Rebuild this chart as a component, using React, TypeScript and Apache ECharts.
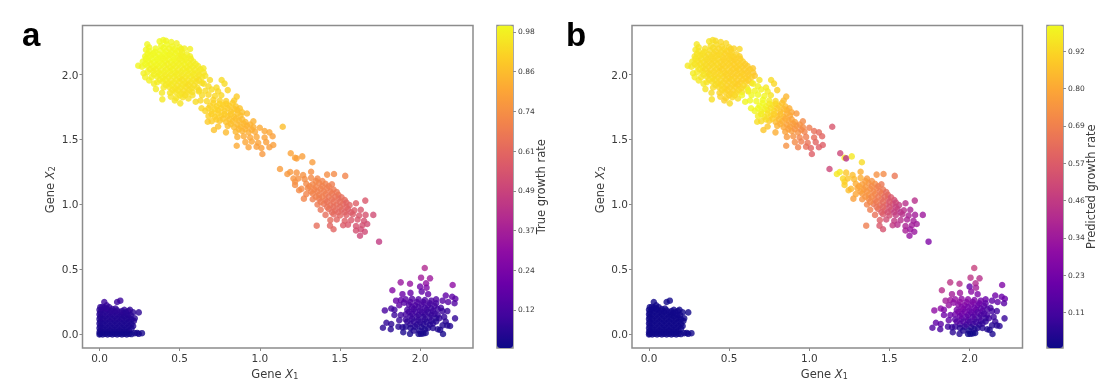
import React, { useEffect, useRef } from "react";
import * as echarts from "echarts";

// every row: [gene X1, gene X2, true growth rate, predicted growth rate]
const upperCluster = [
[.242,2.068,.99,.96],[.298,2.232,1,.96],[.29,2.19,.99,.96],[.31,2.21,.99,.95],[.375,2.255,1,.95],[.398,2.265,1,.94],[.415,2.26,.99,.93],[.448,2.25,.99,.92],[.481,2.24,.98,.92],[.565,2.196,.98,.92],[.53,2.2,.98,.91],[.352,1.888,.97,.95],[.392,1.809,.96,.94],[.504,1.778,.95,.93],[.648,2.048,.96,.88],[.275,2.01,.98,.97],[.285,1.98,.98,.97],[.31,1.955,.98,.96],[.34,1.93,.97,.96],[.39,1.86,.96,.93],[.445,1.83,.95,.91],[.47,1.8,.95,.9],[.62,1.87,.94,.93],[.66,1.99,.95,.88],
[.385,2.22,1,.94],[.42,2.23,1,.93],[.455,2.215,.99,.92],[.5,2.21,.99,.92],
[.31,2.18,1,.95],[.345,2.175,1,.94],[.38,2.185,1,.93],[.415,2.18,1,.92],[.45,2.175,.99,.92],[.485,2.18,.99,.91],[.515,2.17,.98,.91],
[.285,2.14,1,.95],[.32,2.145,1,.94],[.355,2.135,1,.93],[.39,2.14,1,.92],[.425,2.145,.99,.92],[.46,2.135,.99,.91],[.495,2.14,.98,.91],[.53,2.135,.98,.91],[.565,2.14,.98,.9],
[.27,2.1,1,.96],[.305,2.105,1,.94],[.34,2.095,1,.93],[.375,2.1,.99,.92],[.41,2.105,.99,.92],[.445,2.095,.99,.91],[.48,2.1,.98,.91],[.515,2.105,.98,.9],[.55,2.095,.98,.9],[.585,2.1,.97,.9],
[.265,2.06,.99,.96],[.3,2.065,.99,.95],[.335,2.055,.99,.93],[.37,2.06,.99,.92],[.405,2.065,.98,.92],[.44,2.055,.98,.91],[.475,2.06,.98,.91],[.51,2.065,.98,.9],[.545,2.055,.97,.9],[.58,2.06,.97,.89],[.615,2.065,.96,.89],
[.3,2.02,.98,.96],[.335,2.025,.98,.94],[.37,2.015,.98,.93],[.405,2.02,.98,.92],[.44,2.025,.98,.91],[.475,2.015,.97,.91],[.51,2.02,.97,.9],[.545,2.025,.97,.9],[.58,2.015,.96,.9],[.615,2.02,.96,.89],[.65,2.015,.95,.88],
[.325,1.98,.98,.95],[.36,1.985,.98,.94],[.395,1.975,.97,.93],[.43,1.98,.97,.92],[.465,1.985,.97,.91],[.5,1.975,.96,.91],[.535,1.98,.96,.9],[.57,1.985,.96,.9],[.605,1.975,.95,.9],[.64,1.98,.95,.89],
[.36,1.94,.97,.95],[.395,1.945,.97,.94],[.43,1.935,.96,.93],[.465,1.94,.96,.92],[.5,1.945,.95,.91],[.535,1.935,.95,.91],[.57,1.94,.95,.9],[.605,1.945,.94,.9],[.64,1.935,.94,.92],
[.4,1.9,.96,.93],[.435,1.905,.95,.92],[.47,1.895,.95,.91],[.505,1.9,.95,.91],[.54,1.905,.94,.9],[.575,1.895,.94,.91],[.61,1.9,.94,.93],
[.44,1.86,.95,.91],[.475,1.865,.95,.91],[.51,1.855,.94,.9],[.545,1.86,.94,.92],[.58,1.865,.94,.94],
[.48,1.82,.95,.91],[.52,1.825,.94,.92],[.555,1.815,.94,.94],
];

const upperCore = [
[.35,2.2,1,.94],[.4,2.205,1,.93],[.435,2.2,.99,.92],[.47,2.195,.99,.92],[.51,2.195,.98,.91],
[.3,2.16,1,.95],[.335,2.16,1,.94],[.37,2.155,1,.93],[.405,2.16,1,.92],[.44,2.155,.99,.92],[.475,2.16,.99,.91],[.51,2.15,.98,.91],[.545,2.155,.98,.91],
[.29,2.12,1,.95],[.325,2.12,1,.94],[.36,2.115,1,.93],[.395,2.12,.99,.92],[.43,2.12,.99,.92],[.465,2.115,.99,.91],[.5,2.12,.98,.91],[.535,2.115,.98,.9],[.57,2.12,.97,.9],
[.285,2.08,1,.95],[.32,2.08,.99,.94],[.355,2.075,.99,.93],[.39,2.08,.99,.92],[.425,2.08,.98,.92],[.46,2.075,.98,.91],[.495,2.08,.98,.91],[.53,2.08,.98,.9],[.565,2.075,.97,.9],[.6,2.08,.97,.89],
[.315,2.04,.98,.95],[.35,2.04,.98,.93],[.385,2.035,.98,.92],[.42,2.04,.98,.92],[.455,2.04,.98,.91],[.49,2.035,.97,.91],[.525,2.04,.97,.9],[.56,2.04,.97,.9],[.595,2.035,.96,.89],[.63,2.04,.96,.89],
[.34,2,.98,.95],[.375,2,.98,.93],[.41,1.995,.97,.92],[.445,2,.97,.92],[.48,2,.97,.91],[.515,1.995,.96,.9],[.55,2,.96,.9],[.585,2,.96,.9],[.62,1.995,.95,.89],
[.375,1.96,.97,.94],[.41,1.96,.97,.93],[.445,1.955,.96,.92],[.48,1.96,.96,.91],[.515,1.96,.95,.91],[.55,1.955,.95,.9],[.585,1.96,.95,.9],[.62,1.955,.94,.9],
[.415,1.92,.96,.93],[.45,1.92,.96,.92],[.485,1.915,.95,.91],[.52,1.92,.95,.91],[.555,1.92,.94,.9],[.59,1.915,.94,.92],
[.455,1.88,.95,.92],[.49,1.88,.95,.91],[.525,1.875,.94,.91],[.56,1.88,.94,.92],
[.5,1.84,.95,.91],[.535,1.84,.94,.92],
];

const middleCluster = [
[.689,1.958,.93,.95],[.762,1.958,.93,.93],[.78,1.93,.93,.92],[.65,1.93,.94,.97],[.68,1.91,.93,.98],[.73,1.9,.93,.96],
[.62,1.88,.93,.99],[.66,1.875,.93,.99],[.7,1.885,.93,.98],[.74,1.87,.92,.97],[.8,1.88,.91,.9],
[.58,1.84,.94,.99],[.64,1.84,.93,1],[.68,1.845,.92,1],[.72,1.835,.92,.99],[.76,1.84,.92,.95],[.856,1.83,.89,.84],
[.6,1.79,.93,.99],[.63,1.8,.92,1],[.67,1.795,.92,1],[.71,1.805,.91,1],[.75,1.8,.91,.97],[.79,1.795,.9,.92],[.84,1.8,.89,.85],
[.637,1.74,.92,1],[.69,1.76,.91,1],[.73,1.755,.91,.98],[.77,1.765,.9,.94],[.81,1.76,.89,.89],[.85,1.755,.88,.85],
[.66,1.72,.91,.99],[.7,1.715,.91,.98],[.74,1.725,.9,.96],[.78,1.72,.89,.91],[.82,1.715,.88,.87],[.86,1.725,.87,.84],[.89,1.71,.87,.8],
[.675,1.637,.89,.94],[.68,1.68,.9,.97],[.72,1.675,.9,.95],[.76,1.685,.89,.91],[.8,1.68,.88,.87],[.84,1.675,.87,.84],[.88,1.685,.86,.8],[.92,1.7,.85,.76],
[.7,1.64,.89,.93],[.75,1.645,.88,.89],[.79,1.635,.87,.85],[.83,1.64,.86,.82],[.87,1.645,.85,.8],[.91,1.635,.84,.78],[.96,1.64,.83,.72],
[.714,1.573,.87,.88],[.74,1.6,.87,.88],[.8,1.605,.86,.83],[.84,1.595,.85,.8],[.88,1.6,.84,.78],[.92,1.605,.83,.76],[.96,1.595,.82,.72],[1,1.59,.81,.68],
[.789,1.555,.85,.82],[.85,1.56,.84,.79],[.89,1.565,.83,.77],[.93,1.555,.82,.74],[.97,1.56,.81,.7],[1.03,1.565,.8,.64],[1.06,1.555,.8,.62],
[.86,1.52,.82,.76],[.9,1.525,.81,.74],[.94,1.515,.8,.7],[.98,1.52,.8,.68],[1.03,1.515,.79,.63],[1.08,1.525,.78,.6],
[.856,1.452,.81,.74],[.91,1.48,.8,.72],[.95,1.485,.8,.68],[.99,1.475,.79,.65],[1.04,1.48,.78,.6],[1.084,1.458,.78,.58],
[.93,1.44,.79,.69],[.98,1.445,.78,.64],[1.01,1.435,.78,.6],[1.06,1.44,.77,.58],[1.016,1.388,.76,.58],[1.143,1.598,.86,.55],
];

const middleCore = [
[.71,1.78,.91,1],[.75,1.775,.91,.96],[.79,1.775,.9,.92],[.83,1.78,.89,.87],
[.68,1.74,.91,1],[.72,1.735,.91,.98],[.76,1.74,.9,.94],[.8,1.74,.89,.89],[.84,1.735,.88,.85],[.875,1.74,.87,.82],
[.7,1.695,.9,.97],[.74,1.7,.9,.94],[.78,1.695,.89,.9],[.82,1.695,.88,.86],[.86,1.7,.87,.82],
[.73,1.655,.89,.93],[.77,1.66,.88,.89],[.81,1.655,.87,.85],[.85,1.66,.86,.81],[.89,1.655,.85,.79],
[.82,1.62,.86,.82],[.86,1.615,.85,.79],[.9,1.62,.84,.77],[.94,1.615,.83,.74],
[.87,1.58,.84,.78],[.91,1.58,.83,.75],[.95,1.575,.82,.72],
];

const lowerCluster = [
[1.193,1.394,.79,.5],[1.22,1.36,.79,.96],[1.23,1.355,.78,.42],[1.265,1.37,.78,.96],[1.328,1.325,.77,.93],[1.533,1.22,.7,.66],[1.463,1.235,.72,.72],[1.42,1.23,.73,.74],[1.126,1.273,.77,.5],[1.172,1.235,.76,.96],[1.19,1.25,.76,.96],[1.23,1.245,.75,.88],[1.27,1.226,.74,.86],[1.32,1.252,.73,.82],[1.22,1.175,.74,.9],[1.245,1.11,.72,.86],[1.275,1.045,.7,.78],[1.21,1.2,.75,.92],
[1.24,1.2,.74,.88],[1.28,1.195,.73,.85],[1.32,1.205,.72,.82],[1.36,1.2,.71,.76],
[1.22,1.15,.73,.9],[1.29,1.16,.72,.82],[1.33,1.155,.71,.78],[1.37,1.165,.7,.75],[1.41,1.16,.69,.72],[1.45,1.155,.68,.66],
[1.26,1.12,.72,.84],[1.3,1.125,.71,.8],[1.34,1.115,.7,.77],[1.38,1.12,.69,.73],[1.42,1.125,.68,.7],[1.46,1.115,.67,.66],
[1.29,1.08,.7,.8],[1.33,1.085,.69,.76],[1.37,1.075,.68,.74],[1.41,1.08,.67,.7],[1.45,1.085,.66,.66],[1.49,1.075,.65,.6],
[1.33,1.04,.68,.75],[1.37,1.045,.67,.72],[1.41,1.035,.66,.68],[1.45,1.04,.65,.64],[1.49,1.045,.63,.58],[1.53,1.035,.62,.52],
[1.36,1,.67,.7],[1.4,1.005,.65,.66],[1.44,.995,.64,.62],[1.48,1,.63,.56],[1.52,1.005,.61,.5],[1.56,.995,.59,.46],[1.6,1.01,.58,.42],[1.658,1.03,.56,.42],
[1.38,.96,.65,.68],[1.43,.965,.63,.62],[1.47,.955,.62,.56],[1.51,.96,.6,.5],[1.55,.965,.58,.46],[1.59,.955,.57,.42],[1.63,.96,.55,.38],
[1.41,.92,.63,.64],[1.46,.925,.61,.56],[1.5,.915,.6,.52],[1.54,.92,.58,.46],[1.58,.925,.57,.42],[1.62,.915,.55,.38],[1.66,.92,.54,.36],[1.708,.92,.52,.34],
[1.44,.88,.62,.58],[1.48,.885,.6,.52],[1.53,.875,.58,.46],[1.57,.88,.56,.42],[1.61,.885,.55,.38],[1.65,.875,.53,.36],
[1.355,.837,.63,.68],[1.438,.837,.6,.56],[1.46,.81,.6,.54],[1.52,.84,.57,.46],[1.55,.845,.56,.42],[1.6,.835,.54,.38],[1.64,.84,.53,.36],[1.67,.85,.52,.35],
[1.6,.8,.53,.37],[1.63,.81,.52,.34],[1.655,.79,.51,.33],[1.625,.76,.5,.32],[1.744,.714,.46,.26],
];

const lowerCore = [
[1.35,1.18,.71,.77],[1.39,1.18,.7,.74],[1.31,1.14,.71,.79],[1.35,1.135,.7,.76],[1.39,1.14,.69,.72],[1.43,1.14,.68,.68],
[1.32,1.1,.7,.78],[1.36,1.1,.69,.75],[1.4,1.1,.68,.71],[1.44,1.1,.67,.67],[1.48,1.095,.66,.62],
[1.35,1.06,.69,.75],[1.39,1.06,.68,.71],[1.43,1.06,.66,.67],[1.47,1.06,.65,.62],[1.51,1.055,.63,.56],
[1.38,1.02,.67,.71],[1.42,1.02,.65,.67],[1.46,1.02,.64,.62],[1.5,1.02,.63,.56],[1.54,1.015,.6,.5],
[1.42,.98,.65,.65],[1.46,.98,.63,.6],[1.5,.98,.62,.54],[1.54,.98,.6,.48],
[1.45,.94,.62,.58],[1.49,.94,.61,.53],[1.53,.94,.59,.47],[1.57,.94,.57,.43],
];

const rightCluster = [
[2.029,.511,.4,.48],[2.006,.437,.35,.44],[2.062,.432,.34,.42],[1.879,.401,.33,.44],[1.937,.39,.32,.42],[2.037,.394,.31,.4],[2.203,.381,.3,.26],[2,.368,.22,.18],[2.04,.36,.26,.36],[1.827,.34,.27,.42],
[1.89,.31,.2,.36],[1.94,.32,.19,.34],[2.01,.33,.17,.28],[2.05,.31,.18,.26],[2.16,.3,.18,.22],[2.2,.29,.17,.2],[2.22,.275,.16,.2],[2.1,.27,.14,.2],[2.14,.26,.15,.18],
[1.85,.26,.19,.36],[1.88,.265,.18,.34],[1.91,.27,.16,.32],[1.95,.275,.15,.3],[1.99,.27,.14,.28],[2.03,.265,.13,.26],[2.07,.26,.13,.22],[2.175,.25,.15,.18],[2.215,.24,.14,.16],
[1.87,.225,.17,.32],[1.93,.23,.14,.28],[1.97,.225,.13,.26],[2.01,.23,.12,.24],[2.05,.225,.12,.2],[2.09,.22,.11,.16],[2.13,.205,.1,.12],
[1.92,.19,.12,.24],[1.96,.195,.11,.24],[2,.185,.11,.2],[2.04,.19,.1,.18],[2.08,.18,.1,.14],[1.91,.155,.11,.22],[1.95,.16,.1,.2],[1.99,.15,.09,.18],[2.03,.155,.09,.16],[2.07,.15,.08,.12],
[1.78,.185,.12,.3],[1.82,.2,.11,.3],[1.84,.19,.1,.26],[1.84,.15,.09,.22],[1.88,.15,.1,.2],[1.91,.115,.09,.16],[1.95,.12,.08,.16],[1.99,.11,.08,.14],[2.03,.115,.07,.12],[2.07,.105,.06,.1],[2.11,.15,.08,.12],[2.14,.18,.08,.1],[2.17,.18,.08,.1],[2.12,.125,.07,.1],[2.15,.135,.07,.09],
[1.87,.11,.08,.18],[1.94,.08,.07,.12],[1.98,.075,.06,.1],[2.02,.08,.05,.08],[2.06,.075,.05,.06],[1.79,.09,.07,.18],[1.82,.08,.06,.16],[2.218,.124,.07,.08],[2.16,.1,.06,.08],
[1.768,.052,.06,.14],[1.817,.04,.05,.12],[1.865,.06,.05,.1],[1.89,.055,.05,.08],[1.91,.06,.04,.08],[1.94,.05,.04,.06],[2.08,.05,.04,.05],[2.11,.04,.04,.04],[2.14,.07,.04,.05],[2.17,.07,.04,.05],[2.187,.065,.04,.05],
[1.895,.017,.03,.06],[1.937,.005,.02,.04],[1.99,.005,.02,.01],[2.005,.005,.02,.01],[2.02,.008,.02,.01],[2.035,.012,.02,.01],[2.143,.004,.02,.03],[2.125,.035,.03,.03],
];

const rightCore = [
[1.9,.245,.15,.3],[1.94,.25,.14,.3],[1.98,.25,.13,.27],[2.02,.25,.12,.24],[2.06,.24,.11,.2],[2.1,.24,.11,.17],
[1.95,.21,.12,.26],[1.99,.21,.11,.23],[2.03,.205,.1,.2],[2.07,.2,.09,.16],[2.11,.195,.09,.13],
[1.93,.175,.11,.24],[1.97,.175,.1,.22],[2.01,.17,.09,.18],[2.05,.17,.08,.15],[2.09,.16,.08,.12],
[1.94,.14,.09,.2],[1.98,.135,.08,.17],[2.02,.135,.07,.14],[2.06,.13,.07,.11],[2.1,.125,.06,.09],
[1.96,.1,.07,.14],[2,.095,.06,.11],[2.04,.095,.05,.09],[2.08,.085,.05,.07],[2.1,.1,.05,.07],
[1.92,.1,.07,.15],[1.97,.06,.05,.08],[2.01,.055,.04,.06],[2.05,.05,.04,.05],
[1.995,.03,.03,.02],[2.03,.04,.03,.03],[1.96,.03,.04,.04],
];

const originCluster = [
[.13,.26,.09,.01],[.11,.25,.09,.01],[.03,.25,.09,.01],[.045,.225,.08,.01],[.1,.2,.07,.01],[.155,.19,.07,.01],[.18,.18,.07,.01],[.19,.19,.07,.01],[.21,.17,.06,.01],[.245,.17,.06,.01],[.22,.125,.05,.01],[.215,.105,.05,.01],[.21,.065,.04,.01],[.22,.01,.02,.01],[.245,.005,.02,.01],[.265,.01,.02,.01],[.235,.012,.02,.01],
[.005,.21,.07,.01],[.03,.205,.07,.01],[.06,.21,.07,.01],[.08,.195,.07,.01],
[.005,.17,.06,.01],[.035,.175,.06,.01],[.065,.17,.06,.01],[.095,.175,.06,.01],[.125,.17,.06,.01],[.15,.165,.05,.01],[.175,.15,.05,.01],
[.005,.135,.05,.01],[.035,.14,.05,.01],[.065,.135,.05,.01],[.095,.14,.05,.01],[.125,.135,.05,.01],[.155,.14,.04,.01],[.185,.13,.04,.01],
[.005,.1,.04,.01],[.035,.105,.04,.01],[.065,.1,.04,.01],[.095,.105,.04,.01],[.125,.1,.04,.01],[.155,.105,.03,.01],[.185,.1,.03,.01],
[.005,.065,.03,.01],[.035,.07,.03,.01],[.065,.065,.03,.01],[.095,.07,.03,.01],[.125,.065,.03,.01],[.155,.07,.03,.01],[.185,.065,.03,.01],
[.005,.03,.02,.005],[.035,.035,.02,.005],[.065,.03,.02,.005],[.095,.035,.02,.005],[.125,.03,.02,.005],[.155,.035,.02,.005],[.185,.03,.02,.005],
[.005,.005,.01,.005],[.035,.005,.01,.005],[.065,.005,.01,.005],[.095,.005,.01,.005],[.125,.005,.01,.005],[.155,.005,.01,.005],[.185,.005,.01,.005],
];

const originCore = [
[.02,.19,.06,.005],[.05,.19,.06,.005],[.08,.155,.05,.005],[.11,.155,.05,.005],[.14,.15,.05,.005],[.02,.155,.05,.005],[.05,.155,.05,.005],
[.02,.12,.04,.005],[.05,.12,.04,.005],[.08,.12,.04,.005],[.11,.12,.04,.005],[.14,.12,.04,.005],[.17,.12,.04,.005],
[.02,.085,.03,.005],[.05,.085,.03,.005],[.08,.085,.03,.005],[.11,.085,.03,.005],[.14,.085,.03,.005],[.17,.085,.03,.005],
[.02,.05,.025,.005],[.05,.05,.025,.005],[.08,.05,.025,.005],[.11,.05,.025,.005],[.14,.05,.025,.005],[.17,.05,.025,.005],
[.02,.018,.02,.005],[.05,.018,.02,.005],[.08,.018,.02,.005],[.11,.018,.02,.005],[.14,.018,.02,.005],[.17,.018,.02,.005],
];

const originEdge = [
[0,.19,.06,.005],[0,.155,.05,.005],[0,.12,.04,.005],[0,.085,.03,.005],[0,.05,.025,.005],[0,.018,.02,.005],[0,0,.01,.005],
[.02,0,.01,.005],[.05,0,.01,.005],[.08,0,.01,.005],[.11,0,.01,.005],[.14,0,.01,.005],[.17,0,.01,.005],[.2,.003,.01,.005],
[.018,.212,.07,.01],[.045,.2,.07,.01],[.075,.18,.06,.01],[.11,.185,.06,.01],[.14,.18,.06,.01],[.165,.17,.05,.01],[.195,.15,.05,.01],[.2,.115,.04,.005],[.2,.08,.03,.005],[.2,.045,.025,.005],
];

const allPoints = [...originCluster, ...originCore, ...originEdge, ...rightCluster, ...rightCore, ...upperCluster, ...upperCore, ...middleCluster, ...middleCore, ...lowerCluster, ...lowerCore];

const geneTicks = [0, 0.5, 1, 1.5, 2];
const trueTickValues = [0.1225, 0.245, 0.3675, 0.49, 0.6125, 0.735, 0.8575, 0.98];
const trueTickLabels = ["0.12", "0.24", "0.37", "0.49", "0.61", "0.74", "0.86", "0.98"];
const predTickValues = [0.115, 0.23, 0.345, 0.46, 0.575, 0.69, 0.805, 0.92];
const predTickLabels = ["0.11", "0.23", "0.34", "0.46", "0.57", "0.69", "0.80", "0.92"];
const plasma = ["#0d0887", "#41049d", "#6a00a8", "#8f0da4", "#b12a90", "#cc4778", "#e16462", "#f2844b", "#fca636", "#fcce25", "#f0f921"];

const FONT = "DejaVu Sans";
const INK = "#3a3a3a";
const SPINE = "#8c8c8c";
const AXIS_LINE = { show: false, onZero: false };

function geneName(sub: string) {
  return `{n|Gene }{i|X}{s|${sub}}`;
}
const nameStyle = {
  color: INK,
  fontFamily: FONT,
  fontSize: 11.5,
  padding: [0, 6, 0, 0],
  rich: {
    n: { fontFamily: FONT, fontSize: 11.5, color: INK },
    i: { fontFamily: FONT, fontSize: 11.5, fontStyle: "italic", color: INK },
    s: { fontFamily: FONT, fontSize: 8, color: INK, verticalAlign: "bottom", padding: [5, 0, 0, 0] },
  },
};

function panelAxes(gridIndex: number) {
  const tick = { show: true, length: 3, lineStyle: { color: SPINE, width: 1 }, customValues: geneTicks };
  const label = {
    color: INK,
    fontFamily: FONT,
    fontSize: 10.5,
    margin: 4,
    customValues: geneTicks,
    formatter: (v: number) => v.toFixed(1),
  };
  return {
    x: {
      type: "value", gridIndex, min: -0.106, max: 2.33,
      axisLine: AXIS_LINE, splitLine: { show: false }, axisTick: tick, axisLabel: label,
      name: geneName("1"), nameLocation: "middle", nameGap: 17, nameTextStyle: nameStyle,
    },
    y: {
      type: "value", gridIndex, min: -0.104, max: 2.377,
      axisLine: AXIS_LINE, splitLine: { show: false }, axisTick: tick, axisLabel: label,
      name: geneName("2"), nameLocation: "middle", nameGap: 26, nameTextStyle: nameStyle,
    },
  };
}

function barAxes(gridIndex: number, values: number[], labels: string[], title: string) {
  return {
    x: { type: "value", gridIndex, show: false, min: 0, max: 1 },
    y: {
      type: "value", gridIndex, position: "right", min: 0.005, max: 1,
      axisLine: AXIS_LINE, splitLine: { show: false },
      axisTick: { show: true, length: 3, lineStyle: { color: SPINE, width: 1 }, customValues: values },
      axisLabel: {
        color: INK, fontFamily: FONT, fontSize: 7.5, margin: 5, customValues: values,
        formatter: (v: number) => labels[values.findIndex((t) => Math.abs(t - v) < 1e-6)] ?? "",
      },
      name: title, nameLocation: "middle", nameRotate: 90, nameGap: 22, nameMoveOverlap: false,
      nameTextStyle: { color: INK, fontFamily: FONT, fontSize: 11.5 },
    },
  };
}

const GRID_TOP = 25.5;
const GRID_H = 322.5;
const gridBox = { top: GRID_TOP, height: GRID_H, show: true, borderColor: SPINE, borderWidth: 1.5, backgroundColor: "transparent", containLabel: false };

export default function App() {
  const ref = useRef<HTMLDivElement>(null);
  useEffect(() => {
    document.body.style.margin = "0";
    document.body.style.background = "#fff";
    const chart = echarts.init(ref.current!, undefined, { renderer: "svg" });
    const a = panelAxes(0);
    const b = panelAxes(1);
    const ca = barAxes(2, trueTickValues, trueTickLabels, "True growth rate");
    const cb = barAxes(3, predTickValues, predTickLabels, "Predicted growth rate");
    const scatter = (i: number, dim: number) => ({
      type: "scatter", xAxisIndex: i, yAxisIndex: i, data: allPoints, symbolSize: 6.5,
      encode: { x: 0, y: 1, value: dim }, itemStyle: { opacity: 0.8 }, silent: true,
    });
    const bar = (left: number, seriesIndex: number, dimension: number) => ({
      type: "continuous", min: 0, max: 1, seriesIndex, dimension, show: true, calculable: false,
      left, top: GRID_TOP, itemWidth: 16, itemHeight: GRID_H, padding: 0, text: null as any,
      hoverLink: false, inRange: { color: plasma },
    });
    chart.setOption({
      animation: false,
      backgroundColor: "#fff",
      tooltip: { show: false },
      grid: [
        { ...gridBox, left: 82.5, width: 390.5 },
        { ...gridBox, left: 632, width: 390.5 },
        { ...gridBox, left: 497, width: 16 },
        { ...gridBox, left: 1047, width: 16 },
      ],
      xAxis: [a.x, b.x, ca.x, cb.x],
      yAxis: [a.y, b.y, ca.y, cb.y],
      visualMap: [bar(497, 0, 2), bar(1047, 1, 3)],
      series: [scatter(0, 2), scatter(1, 3)],
      graphic: [
        { type: "text", x: 22, y: 18, style: { text: "a", fontSize: 33, fontWeight: "bold", fontFamily: "Liberation Sans", fill: "#000" } },
        { type: "text", x: 566, y: 18, style: { text: "b", fontSize: 33, fontWeight: "bold", fontFamily: "Liberation Sans", fill: "#000" } },
      ],
    });
    return () => chart.dispose();
  }, []);
  return <div ref={ref} style={{ position: "absolute", left: 0, top: 0, width: 1106, height: 387, filter: "blur(0.4px)" }} />;
}
